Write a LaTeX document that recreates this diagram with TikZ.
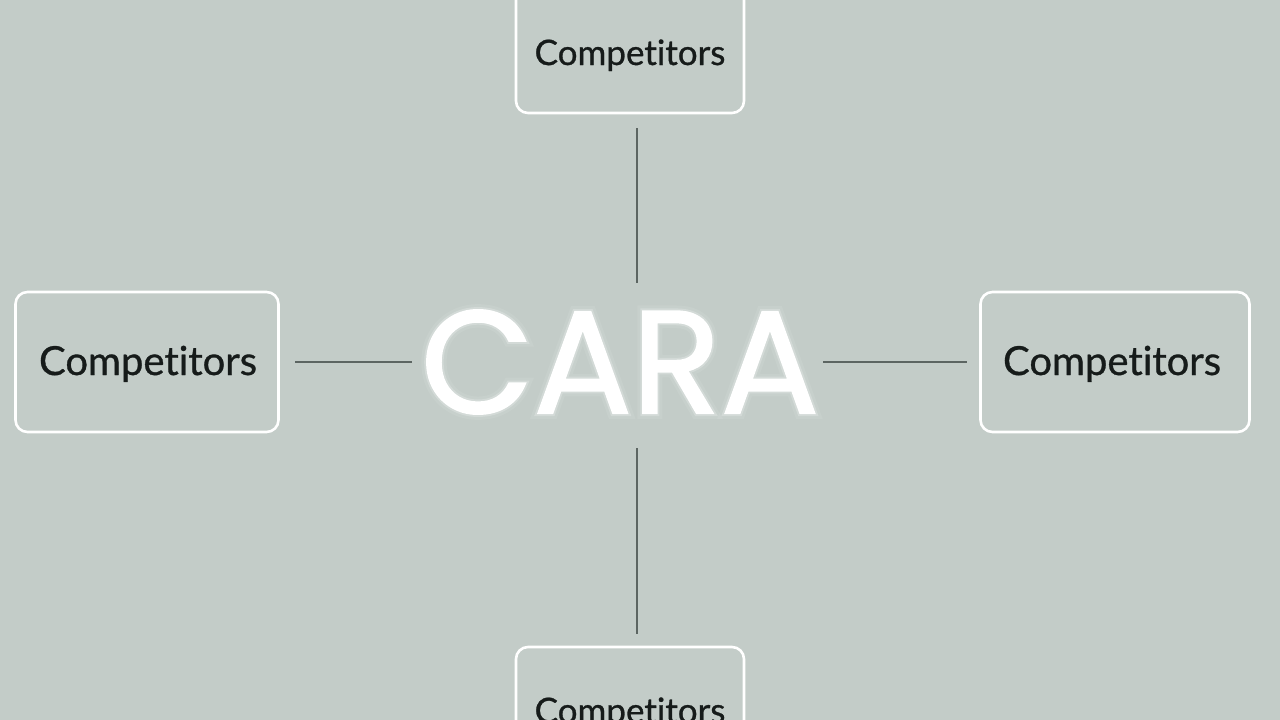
\documentclass[tikz,border=0pt]{standalone}
\usepackage{fontspec}
\setmainfont{Lato}[Ligatures={NoCommon}, FakeBold=0.8]
\newfontfamily\carafont[FakeBold=1.4]{Poppins}
\newfontfamily\caraglowA[FakeBold=4]{Poppins}
\newfontfamily\caraglowB[FakeBold=8]{Poppins}
\definecolor{bg}{HTML}{C3CCC8}
\definecolor{ink}{HTML}{161B1A}
\definecolor{wire}{HTML}{5C6562}
\tikzset{
  compbox/.style={draw=white, line width=2.6pt, rounded corners=12pt, fill=bg},
  complabel/.style={text=ink, font=\fontsize{40}{44}\selectfont, inner sep=0pt, anchor=base},
  smalllabel/.style={text=ink, font=\fontsize{35}{40}\selectfont, inner sep=0pt, anchor=base},
  wireline/.style={draw=wire, line width=1.1pt},
  carastyle/.style={text=white, inner sep=0pt},
}
\begin{document}
\begin{tikzpicture}[x=1pt,y=-1pt]
\useasboundingbox (0,0) rectangle (1280,720);
\fill[bg] (0,0) rectangle (1280,720);
% boxes
\node[compbox, minimum width=228pt, minimum height=140pt] (topbox) at (630,43) {};
\node[compbox, minimum width=228pt, minimum height=140pt] (botbox) at (630,717) {};
\node[compbox, minimum width=263pt, minimum height=140pt] (leftbox) at (147,362) {};
\node[compbox, minimum width=269pt, minimum height=140pt] (rightbox) at (1115,362) {};
\node[smalllabel] (toptext) at (630,65) {Competitors};
\node[smalllabel] (bottext) at (630,723) {Competitors};
\node[complabel] (lefttext) at (148,375) {Competitors};
\node[complabel] (righttext) at (1112,375) {Competitors};
% CARA with glow
\node[carastyle, opacity=0.08, font=\caraglowB\fontsize{146}{150}\selectfont] (caraglowouter) at (620,362) {CARA};
\node[carastyle, opacity=0.22, font=\caraglowA\fontsize{146}{150}\selectfont] (caraglowinner) at (620,362) {CARA};
\node[carastyle, font=\carafont\fontsize{146}{150}\selectfont] (cara) at (620,362) {CARA};
% connectors
\coordinate (ta) at (637,128);
\coordinate (tb) at (637,283);
\coordinate (ba) at (637,448);
\coordinate (bb) at (637,634);
\coordinate (la) at (295,362);
\coordinate (lb) at (412,362);
\coordinate (ra) at (823,362);
\coordinate (rb) at (967,362);
\draw[wireline] (ta) -- (tb);
\draw[wireline] (ba) -- (bb);
\draw[wireline] (la) -- (lb);
\draw[wireline] (ra) -- (rb);
\end{tikzpicture}
\end{document}
